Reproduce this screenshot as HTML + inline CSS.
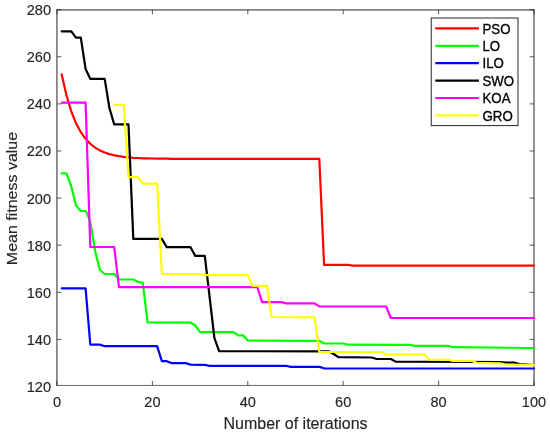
<!DOCTYPE html>
<html><head><meta charset="utf-8"><style>
html,body{margin:0;padding:0;background:#fff;}
body{width:550px;height:435px;overflow:hidden;}
svg{display:block;}
text{font-family:"Liberation Sans",Arial,sans-serif;fill:#262626;stroke:#262626;stroke-width:0.15px;}
</style></head><body>
<svg width="550" height="435" viewBox="0 0 550 435">
<rect x="0" y="0" width="550" height="435" fill="#fff"/>
<g stroke="#262626" stroke-width="1" fill="none">
<line x1="56.95" y1="9.45" x2="56.95" y2="385.95"/><line x1="534.0" y1="9.45" x2="534.0" y2="385.95"/><line x1="56.45" y1="9.95" x2="534.5" y2="9.95"/><line x1="56.45" y1="385.45" x2="534.5" y2="385.45" stroke-opacity="0.7"/>
<g stroke-opacity="0.75"><line x1="57.0" y1="385.45" x2="57.0" y2="380.95"/><line x1="57.0" y1="9.95" x2="57.0" y2="14.45"/>
<line x1="152.4" y1="385.45" x2="152.4" y2="380.95"/><line x1="152.4" y1="9.95" x2="152.4" y2="14.45"/>
<line x1="247.8" y1="385.45" x2="247.8" y2="380.95"/><line x1="247.8" y1="9.95" x2="247.8" y2="14.45"/>
<line x1="343.2" y1="385.45" x2="343.2" y2="380.95"/><line x1="343.2" y1="9.95" x2="343.2" y2="14.45"/>
<line x1="438.6" y1="385.45" x2="438.6" y2="380.95"/><line x1="438.6" y1="9.95" x2="438.6" y2="14.45"/>
<line x1="534.0" y1="385.45" x2="534.0" y2="380.95"/><line x1="534.0" y1="9.95" x2="534.0" y2="14.45"/>
<line x1="56.95" y1="339.4" x2="61.45" y2="339.4"/><line x1="534.0" y1="339.4" x2="529.5" y2="339.4"/>
<line x1="56.95" y1="292.3" x2="61.45" y2="292.3"/><line x1="534.0" y1="292.3" x2="529.5" y2="292.3"/>
<line x1="56.95" y1="245.2" x2="61.45" y2="245.2"/><line x1="534.0" y1="245.2" x2="529.5" y2="245.2"/>
<line x1="56.95" y1="198.1" x2="61.45" y2="198.1"/><line x1="534.0" y1="198.1" x2="529.5" y2="198.1"/>
<line x1="56.95" y1="151.0" x2="61.45" y2="151.0"/><line x1="534.0" y1="151.0" x2="529.5" y2="151.0"/>
<line x1="56.95" y1="103.9" x2="61.45" y2="103.9"/><line x1="534.0" y1="103.9" x2="529.5" y2="103.9"/>
<line x1="56.95" y1="56.8" x2="61.45" y2="56.8"/><line x1="534.0" y1="56.8" x2="529.5" y2="56.8"/>
<line x1="56.95" y1="9.7" x2="61.45" y2="9.7"/><line x1="534.0" y1="9.7" x2="529.5" y2="9.7"/>
</g></g>
<g fill="none" stroke-width="2.2" stroke-linejoin="round" stroke-linecap="round">
<polyline stroke="#ff0000" points="61.7,74.4 66.5,95.5 71.3,111.3 76.0,123.2 80.8,132.1 85.6,138.8 90.3,143.8 95.1,147.6 99.9,150.4 104.7,152.5 109.4,154.1 114.2,155.3 119.0,156.2 123.7,156.9 128.5,157.4 133.3,157.8 138.0,158.0 142.8,158.3 147.6,158.4 152.4,158.5 157.1,158.6 161.9,158.7 166.7,158.7 171.4,158.8 176.2,158.8 181.0,158.8 185.8,158.9 190.5,158.9 195.3,158.9 200.1,158.9 204.8,158.9 209.6,158.9 214.4,158.9 219.1,158.9 223.9,158.9 228.7,158.9 233.5,158.9 238.2,158.9 243.0,158.9 247.8,158.9 252.5,158.9 257.3,158.9 262.1,158.9 266.9,158.9 271.6,158.9 276.4,158.9 281.2,158.9 285.9,158.9 290.7,158.9 295.5,158.9 300.2,158.9 305.0,158.9 309.8,158.9 314.6,158.9 319.3,158.9 324.1,264.9 348.0,264.9 352.7,265.6 534.0,265.6"/>
<polyline stroke="#00ff00" points="61.7,173.4 66.5,173.4 71.3,186.5 76.0,205.5 80.8,211.0 85.6,211.0 87.8,215.3 90.3,222.0 95.1,251.0 99.9,270.0 104.7,274.0 114.2,274.0 119.0,279.3 133.3,279.5 138.0,281.8 142.8,282.9 147.6,322.5 190.5,322.6 195.3,325.5 200.1,332.1 233.5,332.1 238.2,335.3 243.0,335.3 247.8,340.5 319.3,340.8 324.1,343.5 343.2,343.5 348.0,344.7 410.0,344.8 414.7,345.9 448.1,345.9 452.9,347.2 534.0,348.0"/>
<polyline stroke="#0000ff" points="61.7,288.3 85.6,288.3 90.3,344.6 99.9,344.6 104.7,346.2 157.1,346.2 161.9,361.2 166.7,361.2 171.4,363.1 185.8,363.1 190.5,364.6 204.8,364.8 209.6,365.8 285.9,365.8 290.7,366.9 319.3,366.9 324.1,368.3 534.0,368.5"/>
<polyline stroke="#000000" points="61.7,31.4 71.3,31.4 76.0,37.7 80.8,37.7 85.6,69.0 90.3,78.9 104.7,78.9 109.4,108.0 114.2,124.4 128.5,124.4 133.3,238.9 161.9,238.9 166.7,247.2 190.5,247.2 195.3,255.9 204.8,255.9 209.6,297.0 214.4,338.0 219.1,351.2 328.9,351.3 333.6,354.0 338.4,357.1 371.8,357.5 376.6,359.0 390.9,359.0 395.7,361.6 500.6,362.0 505.4,362.7 514.9,362.7 519.7,364.0 534.0,365.0"/>
<polyline stroke="#ff00ff" points="61.7,102.7 85.6,102.7 90.3,247.0 114.2,247.0 119.0,287.1 257.3,287.2 262.1,302.1 281.2,302.1 285.9,303.4 314.6,303.4 319.3,306.4 386.1,306.5 390.9,318.0 534.0,318.0"/>
<polyline stroke="#ffff00" points="114.2,104.8 123.7,104.8 128.5,177.2 138.0,177.2 142.8,183.7 157.1,183.7 161.9,274.0 200.1,274.0 204.8,275.1 247.8,275.1 252.5,285.9 266.9,285.9 271.6,317.0 314.6,317.3 319.3,352.0 381.3,352.0 386.1,354.6 424.3,354.6 429.0,359.5 448.1,359.8 452.9,361.0 472.0,361.0 476.8,362.8 500.6,363.3 505.4,364.5 534.0,365.2"/>
</g>
<text transform="translate(57.0,407.3) scale(1,1.05)" font-size="14.6" text-anchor="middle">0</text>
<text transform="translate(152.4,407.3) scale(1,1.05)" font-size="14.6" text-anchor="middle">20</text>
<text transform="translate(247.8,407.3) scale(1,1.05)" font-size="14.6" text-anchor="middle">40</text>
<text transform="translate(343.2,407.3) scale(1,1.05)" font-size="14.6" text-anchor="middle">60</text>
<text transform="translate(438.6,407.3) scale(1,1.05)" font-size="14.6" text-anchor="middle">80</text>
<text transform="translate(534.0,407.3) scale(1,1.05)" font-size="14.6" text-anchor="middle">100</text>
<text transform="translate(51,391.90) scale(1,1.05)" font-size="14.6" text-anchor="end">120</text>
<text transform="translate(51,344.80) scale(1,1.05)" font-size="14.6" text-anchor="end">140</text>
<text transform="translate(51,297.70) scale(1,1.05)" font-size="14.6" text-anchor="end">160</text>
<text transform="translate(51,250.60) scale(1,1.05)" font-size="14.6" text-anchor="end">180</text>
<text transform="translate(51,203.50) scale(1,1.05)" font-size="14.6" text-anchor="end">200</text>
<text transform="translate(51,156.40) scale(1,1.05)" font-size="14.6" text-anchor="end">220</text>
<text transform="translate(51,109.30) scale(1,1.05)" font-size="14.6" text-anchor="end">240</text>
<text transform="translate(51,62.20) scale(1,1.05)" font-size="14.6" text-anchor="end">260</text>
<text transform="translate(51,15.10) scale(1,1.05)" font-size="14.6" text-anchor="end">280</text>
<text x="295.5" y="429" font-size="16" text-anchor="middle">Number of iterations</text>
<text transform="translate(16.8,198.5) rotate(-90) scale(1,0.94)" x="0" y="0" font-size="16" text-anchor="middle">Mean fitness value</text>
<rect x="431.2" y="18.0" width="86.8" height="107.6" fill="#fff" stroke="#262626" stroke-width="1"/>
<line x1="435.3" y1="28.4" x2="478.9" y2="28.4" stroke="#ff0000" stroke-width="2.2"/>
<text transform="translate(482.5,33.60) scale(1.02,1.06)" font-size="13" style="fill:#000;stroke:#000;stroke-width:0.3px">PSO</text>
<line x1="435.3" y1="45.8" x2="478.9" y2="45.8" stroke="#00ff00" stroke-width="2.2"/>
<text transform="translate(482.5,51.00) scale(1.02,1.06)" font-size="13" style="fill:#000;stroke:#000;stroke-width:0.3px">LO</text>
<line x1="435.3" y1="63.2" x2="478.9" y2="63.2" stroke="#0000ff" stroke-width="2.2"/>
<text transform="translate(482.5,68.40) scale(1.02,1.06)" font-size="13" style="fill:#000;stroke:#000;stroke-width:0.3px">ILO</text>
<line x1="435.3" y1="80.6" x2="478.9" y2="80.6" stroke="#000000" stroke-width="2.2"/>
<text transform="translate(482.5,85.80) scale(1.02,1.06)" font-size="13" style="fill:#000;stroke:#000;stroke-width:0.3px">SWO</text>
<line x1="435.3" y1="98.0" x2="478.9" y2="98.0" stroke="#ff00ff" stroke-width="2.2"/>
<text transform="translate(482.5,103.20) scale(1.02,1.06)" font-size="13" style="fill:#000;stroke:#000;stroke-width:0.3px">KOA</text>
<line x1="435.3" y1="115.4" x2="478.9" y2="115.4" stroke="#ffff00" stroke-width="2.2"/>
<text transform="translate(482.5,120.60) scale(1.02,1.06)" font-size="13" style="fill:#000;stroke:#000;stroke-width:0.3px">GRO</text>
</svg>
</body></html>
